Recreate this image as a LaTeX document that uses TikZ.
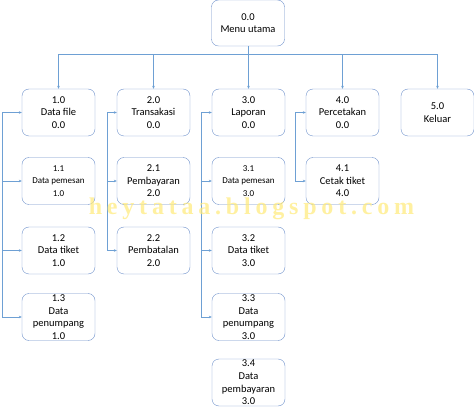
\documentclass[tikz,border=0pt]{standalone}
\usepackage{fontspec}
\setmainfont{Carlito}
\newfontfamily\markfont[LetterSpace=20]{Liberation Serif}
\usepackage{tikz}
\usetikzlibrary{arrows.meta}
\usetikzlibrary{positioning}
\definecolor{boxblue}{RGB}{112,146,204}
\definecolor{lineblue}{RGB}{110,160,212}
\definecolor{markyellow}{RGB}{255,234,120}
\tikzset{
	menubox/.style={draw=boxblue, fill=white, rounded corners=7pt, align=center,
		minimum width=73pt, minimum height=47pt, inner sep=0pt,
		font=\fontsize{10.5}{12.6}\selectfont},
	smalltext/.style={font=\fontsize{9}{12.6}\selectfont},
	link/.style={draw=lineblue, line width=0.6pt},
	arr/.style={link, -{Stealth[length=3pt,width=2.6pt]}}
}
\begin{document}
\begin{tikzpicture}[x=1pt,y=-1pt]
		\useasboundingbox (0,0) rectangle (474,414);
		
		% top menu
		\node[menubox, minimum height=46pt] (m0) at (248,23) {0.0\\Menu utama};
		
		% first level
		\node[menubox] (n1) at (58.5,112.5)  {1.0\\Data file\\0.0};
		\node[menubox] (n2) at (153.5,112.5) {2.0\\Transakasi\\0.0};
		\node[menubox] (n3) at (248.5,112.5) {3.0\\Laporan\\0.0};
		\node[menubox] (n4) at (342.5,112.5) {4.0\\Percetakan\\0.0};
		\node[menubox] (n5) at (437.5,112.5) {5.0\\Keluar};
		
		% second level
		\node[menubox, smalltext] (n11) at (58.5,181) {1.1\\Data pemesan\\1.0};
		\node[menubox] (n12) at (58.5,250.5) {1.2\\Data tiket\\1.0};
		\node[menubox] (n13) at (58.5,317) {1.3\\Data\\penumpang\\1.0};
		\node[menubox] (n21) at (153.5,181) {2.1\\Pembayaran\\2.0};
		\node[menubox] (n22) at (153.5,250.5) {2.2\\Pembatalan\\2.0};
		\node[menubox, smalltext] (n31) at (248.5,181) {3.1\\Data pemesan\\3.0};
		\node[menubox] (n32) at (248.5,250.5) {3.2\\Data tiket\\3.0};
		\node[menubox] (n33) at (248.5,317) {3.3\\Data\\penumpang\\3.0};
		\node[menubox] (n34) at (248.5,382.5) {3.4\\Data\\pembayaran\\3.0};
		\node[menubox] (n41) at (342.5,181) {4.1\\Cetak tiket\\4.0};
		
		% bus from the menu
		\coordinate (bus) at (248,54);
		\draw[link] (m0.south) -- (bus);
		\foreach \n in {n1,n2,n3,n4,n5}
			\draw[arr] (bus) -| (\n.north);
		
		% side trunks
		\coordinate (t1) at (2,112.5);
		\coordinate (t2) at (107,112.5);
		\coordinate (t3) at (201.5,112.5);
		\coordinate (t4) at (295.5,112.5);
		\draw[arr] (t1) -- (n1.west);
		\foreach \n in {n11,n12,n13}
			\draw[arr] (t1) |- (\n.west);
		\draw[arr] (t2) -- (n2.west);
		\foreach \n in {n21,n22}
			\draw[arr] (t2) |- (\n.west);
		\draw[arr] (t3) -- (n3.west);
		\foreach \n in {n31,n32,n33}
			\draw[arr] (t3) |- (\n.west);
		\draw[arr] (t4) -- (n4.west);
		\draw[arr] (t4) |- (n41.west);
		
		% watermark
		\node[text=markyellow, opacity=0.7, inner sep=0pt, anchor=base, font=\markfont\bfseries\fontsize{24}{26}\selectfont] (mark) at (251.5,214.5) {heytataa.blogspot.com};
	\end{tikzpicture}
\end{document}
